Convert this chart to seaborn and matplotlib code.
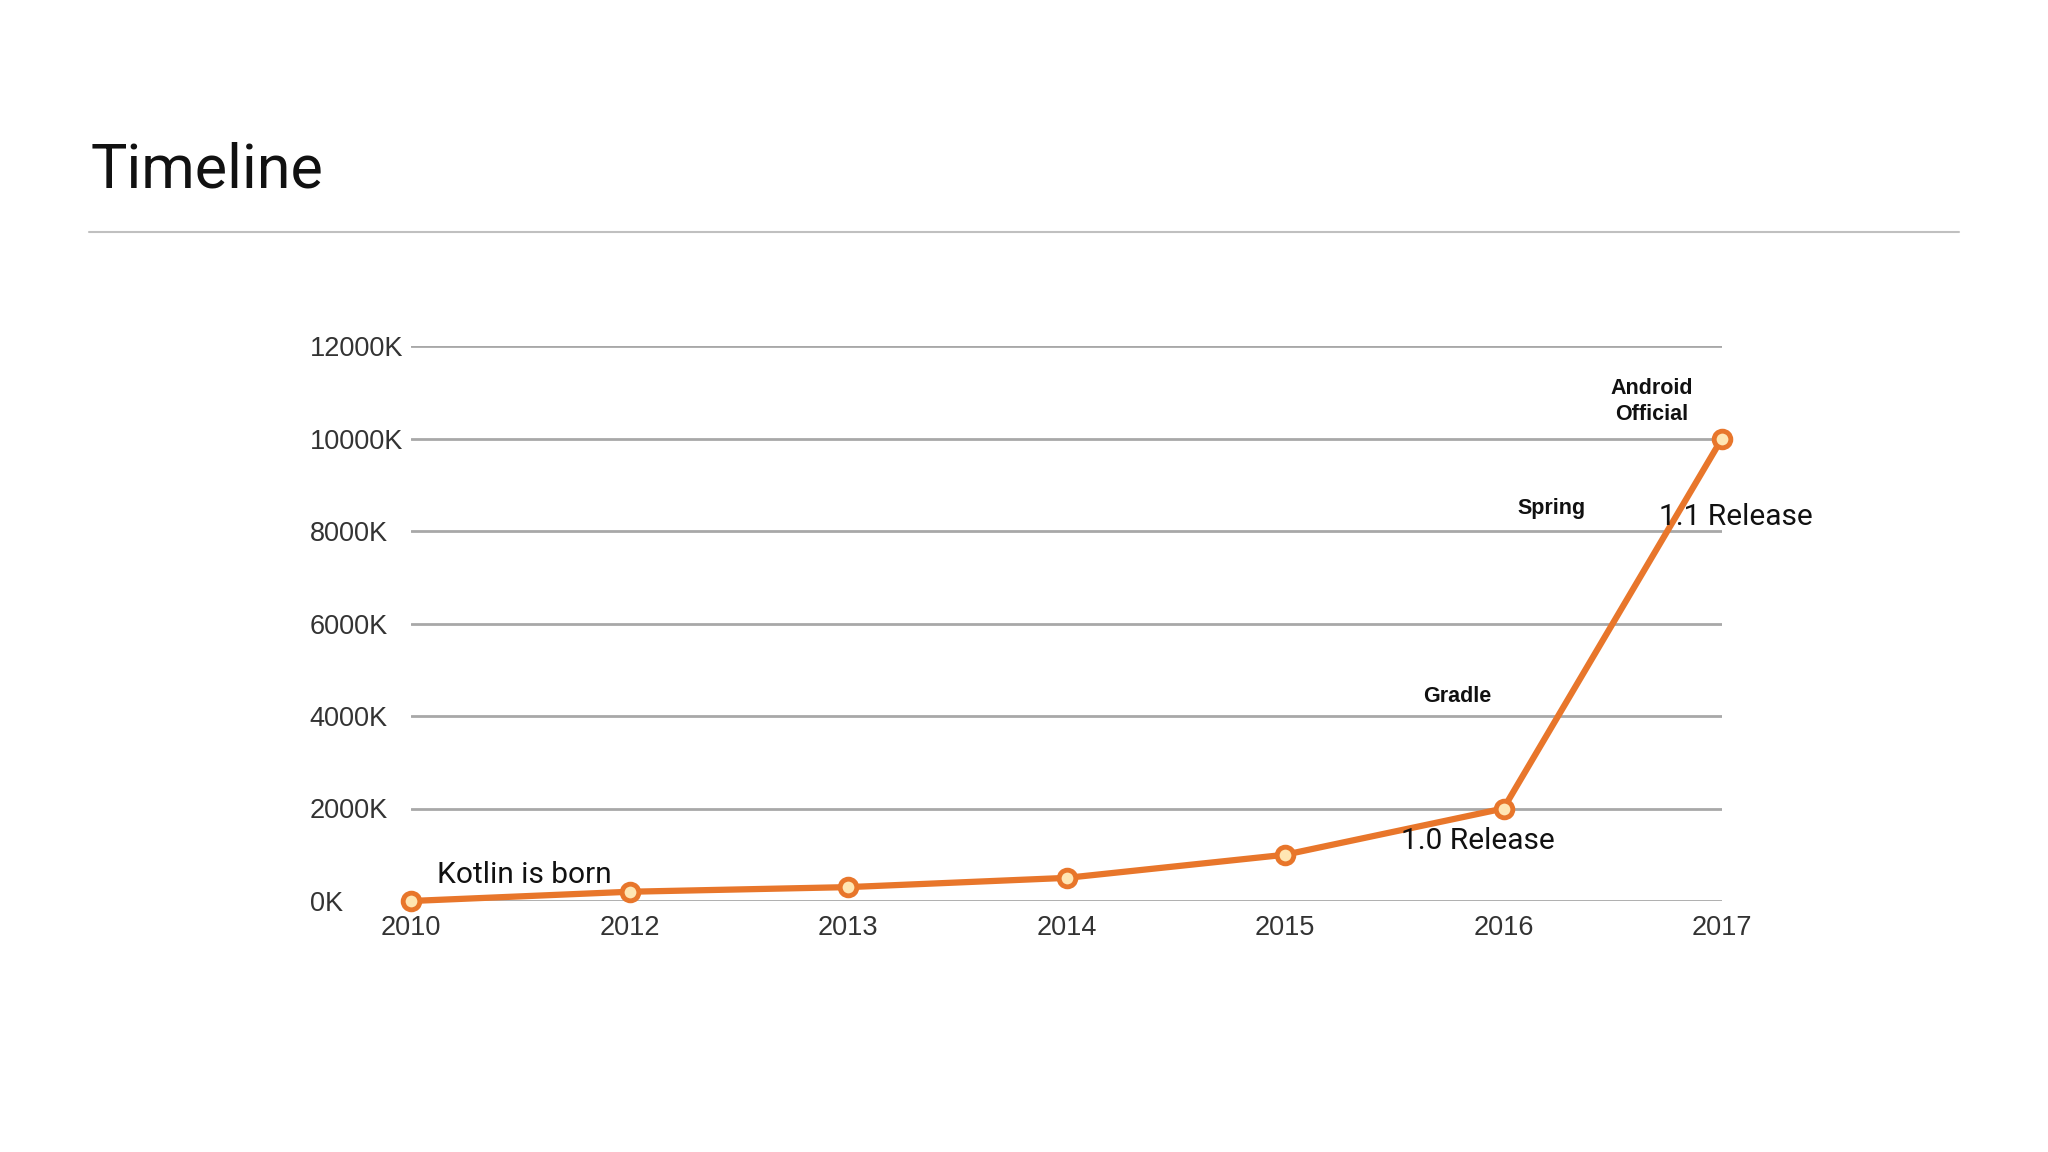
import matplotlib
matplotlib.use("Agg")
import matplotlib.pyplot as plt
import seaborn as sns
import pandas as pd
import numpy as np

years = ["2010", "2012", "2013", "2014", "2015", "2016", "2017"]
downloads_k = [0, 200, 300, 500, 1000, 2000, 10000]
y_ticks = [0, 2000, 4000, 6000, 8000, 10000, 12000]
y_tick_labels = [f"{v}K" for v in y_ticks]

# annotations: (text, x position in category units, y value)
notes_regular = [("Kotlin is born", 0.12, 560), ("1.0 Release", 4.53, 1300), ("1.1 Release", 5.71, 8300)]
notes_bold = [("Gradle", 4.79, 4430), ("Spring", 5.22, 8480), ("Android\nOfficial", 5.68, 10800)]

sns.set_theme(style="white")
plt.rcParams['font.family'] = ['Liberation Sans', 'DejaVu Sans']

df = pd.DataFrame({"pos": np.arange(len(years)), "value": downloads_k})

fig = plt.figure(figsize=(20.48, 11.52), dpi=100)
fig.patch.set_facecolor("white")

ax = fig.add_axes([411/2048, 1 - 901/1152, (1722 - 411)/2048, (901 - 346)/1152])
ax.set_facecolor("white")

sns.lineplot(data=df, x="pos", y="value", ax=ax, color="#E8762B", linewidth=4.5,
             marker="o", markersize=12, markerfacecolor="#FFE6B3",
             markeredgecolor="#E8762B", markeredgewidth=3.5, clip_on=False, zorder=5)

ax.set_xlim(0, len(years) - 1)
ax.set_ylim(0, 12000)
ax.set_yticks(y_ticks)
ax.set_yticklabels(y_tick_labels)
ax.set_xticks(np.arange(len(years)))
ax.set_xticklabels(years)
ax.set_xlabel("")
ax.set_ylabel("")
for s in ax.spines.values():
    s.set_visible(False)
ax.yaxis.grid(True, color="#a8a8a8", linewidth=2)
ax.xaxis.grid(False)
ax.tick_params(axis="y", length=0, pad=73, labelsize=19.5, labelcolor="#333333")
ax.tick_params(axis="x", length=0, pad=10, labelsize=19.5, labelcolor="#333333")
for lab in ax.get_yticklabels():
    lab.set_horizontalalignment("left")

for txt, x, y in notes_regular:
    ax.text(x, y, txt, fontsize=21.5, family=["Roboto", "DejaVu Sans"], color="#111111",
            ha="left", va="center", zorder=6)
for txt, x, y in notes_bold:
    ax.text(x, y, txt, fontsize=15.5, fontweight="bold", color="#111111",
            ha="center", va="center", linespacing=1.35, zorder=6)

fig.text(91/2048, 1 - 187/1152, "Timeline", fontsize=44, color="#111111",
         family=["Roboto", "Liberation Sans"], fontweight="normal",
         ha="left", va="baseline")
fig.add_artist(plt.Line2D([89/2048, 1959/2048], [1 - 232/1152, 1 - 232/1152],
                          color="#c0c0c0", linewidth=1.5))

fig.savefig("out.png", dpi=100, facecolor="white")
